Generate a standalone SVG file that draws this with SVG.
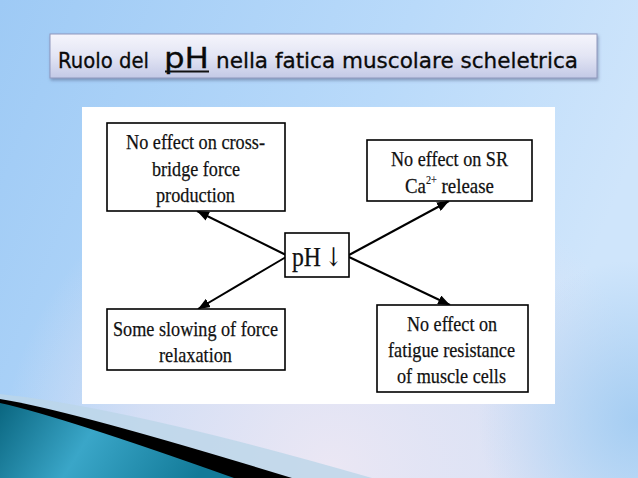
<svg xmlns="http://www.w3.org/2000/svg" width="638" height="478" viewBox="0 0 638 478">
<defs>
<linearGradient id="bg" x1="0" y1="0" x2="1" y2="0.3">
<stop offset="0" stop-color="#9ecaf5"/>
<stop offset="0.6" stop-color="#b9dafa"/>
<stop offset="1" stop-color="#cfe5fb"/>
</linearGradient>
<radialGradient id="lav" cx="330" cy="470" r="330" gradientUnits="userSpaceOnUse">
<stop offset="0" stop-color="#ebe7f4" stop-opacity="1"/>
<stop offset="0.6" stop-color="#e2e2f3" stop-opacity="0.7"/>
<stop offset="1" stop-color="#e2e2f3" stop-opacity="0"/>
</radialGradient>
<radialGradient id="br" cx="638" cy="420" r="160" gradientUnits="userSpaceOnUse">
<stop offset="0" stop-color="#a5cdf2" stop-opacity="1"/>
<stop offset="1" stop-color="#a5cdf2" stop-opacity="0"/>
</radialGradient>
<linearGradient id="tbox" x1="0" y1="0" x2="0" y2="1">
<stop offset="0" stop-color="#f5f5fc"/>
<stop offset="0.5" stop-color="#e3e5f4"/>
<stop offset="1" stop-color="#c3c9e6"/>
</linearGradient>
<linearGradient id="teal" x1="0" y1="0" x2="1" y2="0.2">
<stop offset="0" stop-color="#0a6680"/>
<stop offset="0.45" stop-color="#3aa6c8"/>
<stop offset="1" stop-color="#127a98"/>
</linearGradient>
<filter id="sh" x="-5%" y="-20%" width="110%" height="150%">
<feDropShadow dx="1" dy="2" stdDeviation="1.5" flood-color="#4a5a80" flood-opacity="0.5"/>
</filter>
<marker id="ah" viewBox="0 0 10 8" refX="10" refY="4" markerWidth="6" markerHeight="4.8" orient="auto" markerUnits="strokeWidth">
<path d="M0,0 L10,4 L0,8 Z" fill="#000"/>
</marker>
<style>
.box{fill:#fff;stroke:#000;stroke-width:1.6}
.t{font-family:"Liberation Serif","Times New Roman",serif;font-size:22px;fill:#111;stroke:#111;stroke-width:0.25}
.ti{font-family:"DejaVu Sans","Verdana",sans-serif;fill:#0a0a0a;stroke:#0a0a0a;stroke-width:0.3}
.sup{font-size:12px;stroke-width:0.15}
.c{stroke:#000;stroke-width:2;fill:none;marker-end:url(#ah)}
</style>
</defs>
<rect width="638" height="478" fill="url(#bg)"/>
<rect width="638" height="478" fill="url(#lav)"/>
<rect width="638" height="478" fill="url(#br)"/>

<!-- bottom decoration -->
<path d="M0,394 Q130,408 372,478 L0,478 Z" fill="#bcd6e8" opacity="0.8"/>
<path d="M0,399 Q70,410 292,478 L0,478 Z" fill="#000"/>
<path d="M0,403 Q60,416 234,478 L0,478 Z" fill="url(#teal)"/>

<!-- title -->
<g id="title">
<rect x="50" y="34" width="547" height="44" fill="url(#tbox)" stroke="#8f98bd" stroke-width="1" filter="url(#sh)"/>
<text class="ti" x="58" y="68" style="font-size:21px" textLength="91" lengthAdjust="spacingAndGlyphs">Ruolo del</text>
<text class="ti" x="164" y="68" style="font-size:29px" textLength="45" lengthAdjust="spacingAndGlyphs">pH</text>
<line x1="165" y1="71.5" x2="209" y2="71.5" stroke="#111" stroke-width="1.8"/>
<text class="ti" x="216" y="68" style="font-size:21px" textLength="362" lengthAdjust="spacingAndGlyphs">nella fatica muscolare scheletrica</text>
</g>

<rect id="panel" x="82" y="107" width="473" height="297" fill="#fff"/>

<g id="connectors">
<line class="c" x1="286" y1="255" x2="197" y2="211"/>
<line class="c" x1="286" y1="257" x2="198" y2="309"/>
<line class="c" x1="349" y1="255" x2="449" y2="201"/>
<line class="c" x1="349" y1="257" x2="450" y2="305"/>
</g>

<g id="n1">
<rect class="box" x="107" y="123" width="178" height="88"/>
<text class="t" x="126" y="149" textLength="139" lengthAdjust="spacingAndGlyphs">No effect on cross-</text>
<text class="t" x="152" y="176" textLength="88" lengthAdjust="spacingAndGlyphs">bridge force</text>
<text class="t" x="156" y="202" textLength="79" lengthAdjust="spacingAndGlyphs">production</text>
</g>

<g id="n2">
<rect class="box" x="367" y="140" width="165" height="61"/>
<text class="t" x="391" y="166" textLength="117" lengthAdjust="spacingAndGlyphs">No effect on SR</text>
<text class="t" transform="translate(405,193) scale(0.857,1)" x="0" y="0">Ca<tspan class="sup" dy="-9">2+</tspan><tspan dy="9"> release</tspan></text>
</g>

<g id="ph">
<rect class="box" x="285" y="233" width="64" height="44"/>
<text class="t" x="292" y="266" style="font-size:27px" textLength="29" lengthAdjust="spacingAndGlyphs">pH</text>
<text x="325" y="266" font-family="'DejaVu Serif','Liberation Serif',serif" font-size="26" fill="#111" textLength="17" lengthAdjust="spacingAndGlyphs">↓</text>
</g>

<g id="n3">
<rect class="box" x="107" y="309" width="178" height="61"/>
<text class="t" x="113" y="336" textLength="165" lengthAdjust="spacingAndGlyphs">Some slowing of force</text>
<text class="t" x="159" y="362" textLength="73" lengthAdjust="spacingAndGlyphs">relaxation</text>
</g>

<g id="n4">
<rect class="box" x="377" y="305" width="151" height="87"/>
<text class="t" x="407" y="331" textLength="90" lengthAdjust="spacingAndGlyphs">No effect on</text>
<text class="t" x="388" y="357" textLength="127" lengthAdjust="spacingAndGlyphs">fatigue resistance</text>
<text class="t" x="397" y="383" textLength="109" lengthAdjust="spacingAndGlyphs">of muscle cells</text>
</g>
</svg>
